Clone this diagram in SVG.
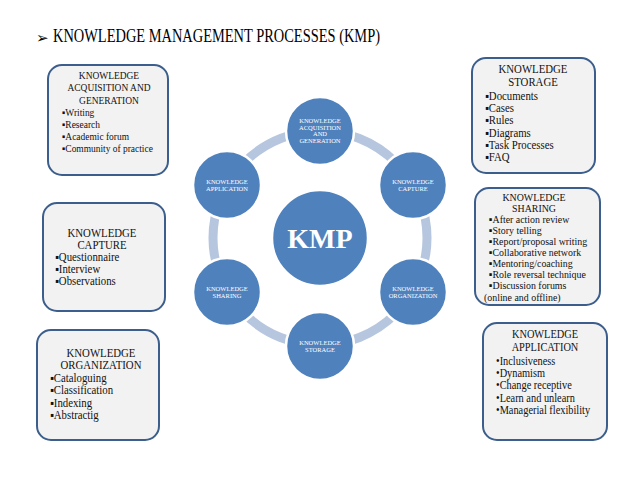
<svg xmlns="http://www.w3.org/2000/svg" width="638" height="478" viewBox="0 0 638 478">
<style>
.box{fill:#f2f2f2;stroke:#3b5e8c;stroke-width:2}
.c{text-anchor:middle}
.node{fill:#4f81bd;stroke:#fff;stroke-width:2.5}
.nt{fill:#fff;font-size:6.5px;text-anchor:middle}
</style>
<rect width="638" height="478" fill="#fff"/>
<g id="title">
<text x="36" y="43" font-family="DejaVu Sans, sans-serif" font-size="15">➢</text>
<text x="53" y="42" font-family="Liberation Serif, Times New Roman, serif" font-size="18" fill="#000" textLength="327" lengthAdjust="spacingAndGlyphs">KNOWLEDGE MANAGEMENT PROCESSES (KMP)</text>
</g>
<g id="connectors">
<circle cx="320" cy="238" r="107" fill="none" stroke="#b7c6df" stroke-width="9"/>
</g>
<g font-family="Liberation Serif, Times New Roman, serif">
<g id="kmp">
<circle class="node" cx="320" cy="238" r="48"/>
<text x="320" y="248" font-weight="bold" font-size="28" fill="#fff" text-anchor="middle">KMP</text>
</g>
<g id="n-acq">
<circle class="node" cx="320" cy="131" r="34"/>
<text class="nt" x="320" y="123">KNOWLEDGE</text>
<text class="nt" x="320" y="130">ACQUISITION</text>
<text class="nt" x="320" y="136">AND</text>
<text class="nt" x="320" y="143">GENERATION</text>
</g>
<g id="n-cap">
<circle class="node" cx="413" cy="185" r="34"/>
<text class="nt" x="413" y="184">KNOWLEDGE</text>
<text class="nt" x="413" y="191">CAPTURE</text>
</g>
<g id="n-org">
<circle class="node" cx="413" cy="292" r="34"/>
<text class="nt" x="413" y="291">KNOWLEDGE</text>
<text class="nt" x="413" y="298">ORGANIZATION</text>
</g>
<g id="n-sto">
<circle class="node" cx="320" cy="346" r="34"/>
<text class="nt" x="320" y="345">KNOWLEDGE</text>
<text class="nt" x="320" y="352">STORAGE</text>
</g>
<g id="n-sha">
<circle class="node" cx="227" cy="292" r="34"/>
<text class="nt" x="227" y="291">KNOWLEDGE</text>
<text class="nt" x="227" y="298">SHARING</text>
</g>
<g id="n-app">
<circle class="node" cx="227" cy="185" r="34"/>
<text class="nt" x="227" y="184">KNOWLEDGE</text>
<text class="nt" x="227" y="191">APPLICATION</text>
</g>
<g id="box-acq">
<rect class="box" x="48" y="65" width="120" height="110" rx="14"/>
<g font-size="10.5" fill="#111" transform="translate(109,0) scale(0.9,1) translate(-109,0)">
<text class="c" x="109" y="79">KNOWLEDGE</text>
<text class="c" x="109" y="91.5">ACQUISITION AND</text>
<text class="c" x="109" y="104">GENERATION</text>
<text x="56.8" y="116">▪Writing</text>
<text x="56.8" y="128">▪Research</text>
<text x="56.8" y="140">▪Academic forum</text>
<text x="56.8" y="152">▪Community of practice</text>
</g>
</g>
<g id="box-cap">
<rect class="box" x="43" y="203" width="122" height="108" rx="14"/>
<g font-size="12" fill="#111" transform="translate(102,0) scale(0.9,1) translate(-102,0)">
<text class="c" x="102" y="237">KNOWLEDGE</text>
<text class="c" x="102" y="249">CAPTURE</text>
<text x="49.8" y="261">▪Questionnaire</text>
<text x="49.8" y="273">▪Interview</text>
<text x="49.8" y="285">▪Observations</text>
</g>
</g>
<g id="box-org">
<rect class="box" x="37" y="330" width="122" height="110" rx="14"/>
<g font-size="12" fill="#111" transform="translate(101,0) scale(0.9,1) translate(-101,0)">
<text class="c" x="101" y="357">KNOWLEDGE</text>
<text class="c" x="101" y="369.5">ORGANIZATION</text>
<text x="44.3" y="382">▪Cataloguing</text>
<text x="44.3" y="394.5">▪Classification</text>
<text x="44.3" y="407">▪Indexing</text>
<text x="44.3" y="419.5">▪Abstractig</text>
</g>
</g>
<g id="box-sto">
<rect class="box" x="472" y="58" width="123" height="115" rx="14"/>
<g font-size="12" fill="#111" transform="translate(533,0) scale(0.9,1) translate(-533,0)">
<text class="c" x="533" y="73">KNOWLEDGE</text>
<text class="c" x="533" y="86">STORAGE</text>
<text x="479.7" y="100">▪Documents</text>
<text x="479.7" y="112">▪Cases</text>
<text x="479.7" y="124.5">▪Rules</text>
<text x="479.7" y="137">▪Diagrams</text>
<text x="479.7" y="149">▪Task Processes</text>
<text x="479.7" y="161">▪FAQ</text>
</g>
</g>
<g id="box-sha">
<rect class="box" x="475" y="188" width="125" height="117" rx="14"/>
<g font-size="11" fill="#111" transform="translate(534,0) scale(0.9,1) translate(-534,0)">
<text class="c" x="534" y="201">KNOWLEDGE</text>
<text class="c" x="534" y="212">SHARING</text>
<text x="484" y="223">▪After action review</text>
<text x="484" y="234">▪Story telling</text>
<text x="484" y="245">▪Report/proposal writing</text>
<text x="484" y="256">▪Collaborative  network</text>
<text x="484" y="267.5">▪Mentoring/coaching</text>
<text x="484" y="278.5">▪Role reversal technique</text>
<text x="484" y="289.5">▪Discussion forums</text>
<text x="478.4" y="301">(online and offline)</text>
</g>
</g>
<g id="box-app">
<rect class="box" x="483" y="323" width="124" height="117" rx="14"/>
<g font-size="11.5" fill="#111" transform="translate(545,0) scale(0.9,1) translate(-545,0)">
<text class="c" x="545" y="338">KNOWLEDGE</text>
<text class="c" x="545" y="351">APPLICATION</text>
<text x="490.6" y="365">•Inclusiveness</text>
<text x="490.6" y="377">•Dynamism</text>
<text x="490.6" y="389.5">•Change receptive</text>
<text x="490.6" y="402">•Learn and unlearn</text>
<text x="490.6" y="414">•Managerial flexibility</text>
</g>
</g>
</g>
</svg>
